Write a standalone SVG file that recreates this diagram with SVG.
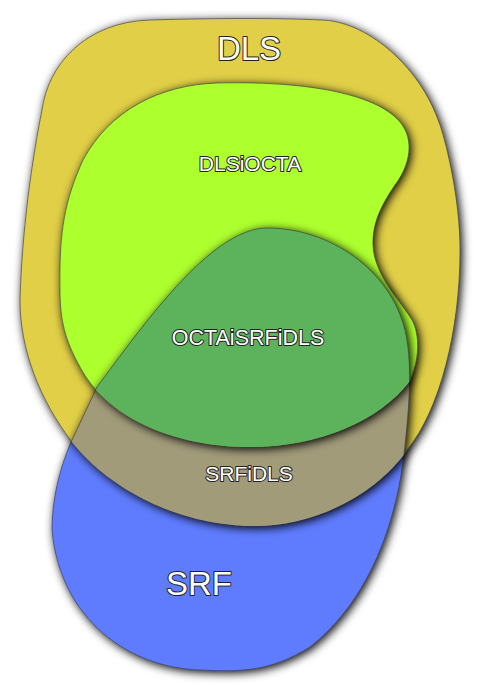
<svg xmlns="http://www.w3.org/2000/svg" width="481" height="685" viewBox="0 0 481 685">
<defs>
<path id="pD" d="M150,20 C220,18 280,18 320,20 C365,20 420,65 440,125 C447,146 460,200 460,250 C460,330 440,410 407,450 C380,490 320,526 255,526 C180,526 110,490 72,442 C40,400 20,350 20,300 C22,230 32,160 42,110 C48,65 85,22 150,20 Z"/>
<path id="pO" d="M217,83 C300,81 375,92 400,122 C415,140 410,165 395,185 C385,200 372,220 373,245 C374,275 400,300 412,320 C420,335 420,360 409,382 C380,420 320,447 250,447 C170,447 105,415 80,367 C65,340 60,320 60,290 C59,230 65,200 83,160 C110,110 160,85 217,83 Z"/>
<path id="pS" d="M267,228 C330,228 390,270 405,330 C412,360 410,400 405,445 C398,520 370,600 310,647 C270,672 240,672 200,670 C130,668 60,620 52,530 C52,495 62,462 72,440 L97,387 C140,330 210,228 267,228 Z"/>
<clipPath id="cD"><use href="#pD"/></clipPath>
<clipPath id="cO"><use href="#pO"/></clipPath>
<filter id="sh" x="-15%" y="-15%" width="130%" height="130%">
<feGaussianBlur in="SourceAlpha" stdDeviation="5"/>
<feOffset dx="2" dy="2" result="b"/>
<feComponentTransfer in="b" result="s"><feFuncA type="linear" slope="1"/></feComponentTransfer>
<feMerge><feMergeNode in="s"/><feMergeNode in="SourceGraphic"/></feMerge>
</filter>
</defs>
<style>
.lbl{font-family:"Liberation Sans",Arial,sans-serif;fill:#fff;stroke:#222;stroke-width:2;paint-order:stroke;stroke-linejoin:round;text-anchor:middle}
.edge{stroke:#2f3340;stroke-width:0.8;stroke-opacity:0.75}
</style>
<rect width="481" height="685" fill="#fff"/>
<g id="srf"><use href="#pS" fill="#5F7BFF" class="edge" filter="url(#sh)"/></g>
<g id="dls"><use href="#pD" fill="#E1CF46" class="edge" filter="url(#sh)"/></g>
<g id="srf-dls" clip-path="url(#cD)"><use href="#pS" fill="#A19B7A" class="edge" filter="url(#sh)"/></g>
<g id="octa"><use href="#pO" fill="#ADFF2F" class="edge" filter="url(#sh)"/></g>
<g id="octa-srf-dls" clip-path="url(#cO)"><use href="#pS" fill="#5CB35B" class="edge" filter="url(#sh)"/></g>
<g id="labels">
<text class="lbl" x="249" y="60" font-size="33">DLS</text>
<text class="lbl" x="250" y="171" font-size="21">DLSiOCTA</text>
<text class="lbl" x="248" y="345" font-size="21.5">OCTAiSRFiDLS</text>
<text class="lbl" x="249" y="481" font-size="21">SRFiDLS</text>
<text class="lbl" x="199" y="595" font-size="33">SRF</text>
</g>
</svg>
